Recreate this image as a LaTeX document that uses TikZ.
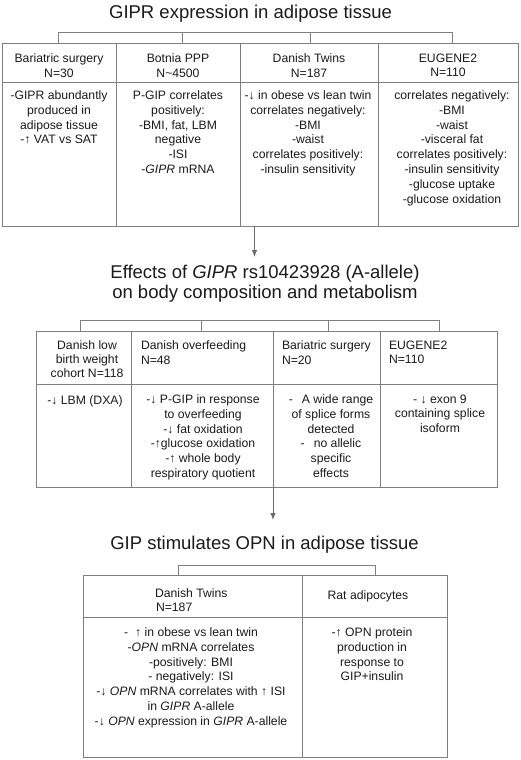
\documentclass[tikz,border=0pt]{standalone}
\usepackage{fontspec}
\setmainfont{Liberation Sans}
\usetikzlibrary{arrows.meta}
\definecolor{lgray}{HTML}{7F7F7F}
\definecolor{agray}{HTML}{6A6A6A}
\definecolor{textc}{HTML}{1A1A1A}
\begin{document}
\begin{tikzpicture}[x=1pt,y=-1pt,
  cell/.style={draw=lgray, line width=1pt, inner sep=0pt, outer sep=0pt},
  txt/.style={inner sep=0pt, outer sep=0pt, anchor=north, align=center, text=textc,
    font=\fontsize{12.2}{14.8}\selectfont, execute at begin node=\strut},
  ltxt/.style={txt, anchor=north west, align=left},
  ttl/.style={inner sep=0pt, outer sep=0pt, align=center, text=textc,
    font=\fontsize{18.5}{20.7}\selectfont},
  ln/.style={draw=lgray, line width=1pt},
  arr/.style={draw=agray, line width=1pt, -{Latex[length=7pt,width=5.5pt]}}]
\useasboundingbox (0,0) rectangle (520,760);

% ---------- Title 1 ----------
\node[ttl, anchor=base] (t1) at (250.5,18.6) {GIPR expression in adipose tissue};

% ---------- Table 1 ----------
\node[cell, anchor=north west, minimum width=114, minimum height=38] (h1) at (2,44) {};
\node[cell, anchor=north west, minimum width=124, minimum height=38] (h2) at (116,44) {};
\node[cell, anchor=north west, minimum width=138, minimum height=38] (h3) at (240,44) {};
\node[cell, anchor=north west, minimum width=140, minimum height=38] (h4) at (378,44) {};
\node[cell, anchor=north west, minimum width=114, minimum height=144] (b1) at (2,82) {};
\node[cell, anchor=north west, minimum width=124, minimum height=144] (b2) at (116,82) {};
\node[cell, anchor=north west, minimum width=138, minimum height=144] (b3) at (240,82) {};
\node[cell, anchor=north west, minimum width=140, minimum height=144] (b4) at (378,82) {};

\node[txt] (h1t) at (59,53.6) {Bariatric surgery\\N=30};
\node[txt] (h2t) at (178,53.6) {Botnia PPP\\N\textasciitilde 4500};
\node[txt] (h3t) at (309,53.6) {Danish Twins\\N=187};
\node[txt] (h4t) at (448,53.6) {EUGENE2\\N=110};

\node[txt] (b1t) at (59,90.6) {-GIPR abundantly\\produced in\\adipose tissue\\-↑ VAT vs SAT};
\node[txt] (b2t) at (178,90.6) {P-GIP correlates\\positively:\\-BMI, fat, LBM\\negative\\-ISI\\-\textit{GIPR} mRNA};
\node[txt] (b3t) at (308,90.6) {-↓ in obese vs lean twin\\correlates negatively:\\-BMI\\-waist\\correlates positively:\\-insulin sensitivity};
\node[txt] (b4t) at (452,90.6) {correlates negatively:\\-BMI\\-waist\\-visceral fat\\correlates positively:\\-insulin sensitivity\\-glucose uptake\\-glucose oxidation};

\draw[ln] ([xshift=-1pt]h1.north) -- ++(0,-11) -| ([xshift=4pt]h4.north);
\draw[ln] ([xshift=4pt]h2.north) -- ++(0,-11);
\draw[ln] ([xshift=1pt]h3.north) -- ++(0,-11);

% ---------- Arrow 1 ----------
\coordinate (a1) at (254.5,257);
\draw[arr] (b3.south west -| a1) -- (a1);

% ---------- Title 2 ----------
\node[ttl, anchor=north, execute at begin node=\strut] (t2) at (265,264.8) {Effects of \textit{GIPR} rs10423928 (A-allele)\\on body composition and metabolism};

% ---------- Table 2 ----------
\node[cell, anchor=north west, minimum width=95, minimum height=53] (c1h) at (36,331) {};
\node[cell, anchor=north west, minimum width=142, minimum height=53] (c2h) at (131,331) {};
\node[cell, anchor=north west, minimum width=107, minimum height=53] (c3h) at (273,331) {};
\node[cell, anchor=north west, minimum width=117, minimum height=53] (c4h) at (380,331) {};
\node[cell, anchor=north west, minimum width=95, minimum height=103] (c1b) at (36,384) {};
\node[cell, anchor=north west, minimum width=142, minimum height=103] (c2b) at (131,384) {};
\node[cell, anchor=north west, minimum width=107, minimum height=103] (c3b) at (273,384) {};
\node[cell, anchor=north west, minimum width=117, minimum height=103] (c4b) at (380,384) {};

\node[txt, font=\fontsize{12.2}{14.2}\selectfont] (c1ht) at (87,340.6) {Danish low\\birth weight\\cohort N=118};
\node[ltxt] (c2ht) at (141,340.6) {Danish overfeeding\\N=48};
\node[ltxt] (c3ht) at (282,340.6) {Bariatric surgery\\N=20};
\node[ltxt] (c4ht) at (389,340.6) {EUGENE2\\N=110};

\node[txt] (c1bt) at (85,394.6) {-↓ LBM (DXA)};
\node[txt] (c2bt) at (203,394.6) {-↓ P-GIP in response\\to overfeeding\\-↓ fat oxidation\\-↑glucose oxidation\\-↑ whole body\\respiratory quotient};
\node[txt] (c3bt) at (331,394.6) {-\hspace{9pt}A wide range\\of splice forms\\detected\\-\hspace{9pt}no allelic\\specific\\effects};
\node[txt] (c4bt) at (440,394.6) {- ↓ exon 9\\containing splice\\isoform};

\draw[ln] ([xshift=-3.5pt]c1h.north) -- ++(0,-11) -| ([xshift=0.5pt]c4h.north);
\draw[ln] ([xshift=-1pt]c2h.north) -- ++(0,-11);
\draw[ln] ([xshift=1.5pt]c3h.north) -- ++(0,-11);

% ---------- Arrow 2 ----------
\coordinate (a2) at (273,520);
\draw[arr] (c2b.south east) -- (a2);

% ---------- Title 3 ----------
\node[ttl, anchor=base] (t3) at (264.5,549.3) {GIP stimulates OPN in adipose tissue};

% ---------- Table 3 ----------
\node[cell, anchor=north west, minimum width=219, minimum height=42] (d1h) at (83,575) {};
\node[cell, anchor=north west, minimum width=145, minimum height=42] (d2h) at (302,575) {};
\node[cell, anchor=north west, minimum width=219, minimum height=140] (d1b) at (83,617) {};
\node[cell, anchor=north west, minimum width=145, minimum height=140] (d2b) at (302,617) {};

\node[ltxt, font=\fontsize{12.2}{14}\selectfont] (d1ht) at (155,588.6) {Danish Twins\\\hspace{1pt}N=187};
\node[txt] (d2ht) at (368,589.6) {Rat adipocytes};

\node[txt] (d1bt) at (191,627.6) {-\hspace{7pt}↑ in obese vs lean twin\\-\textit{OPN} mRNA correlates\\-positively: BMI\\- negatively: ISI\\-↓ \textit{OPN} mRNA correlates with ↑ ISI\\in \textit{GIPR} A-allele\\-↓ \textit{OPN} expression in \textit{GIPR} A-allele};
\node[txt] (d2bt) at (372,627.6) {-↑ OPN protein\\production in\\response to\\GIP+insulin};

\draw[ln] ([xshift=-14.5pt]d1h.north) -- ++(0,-10) -| ([xshift=0.5pt]d2h.north);
\end{tikzpicture}
\end{document}
